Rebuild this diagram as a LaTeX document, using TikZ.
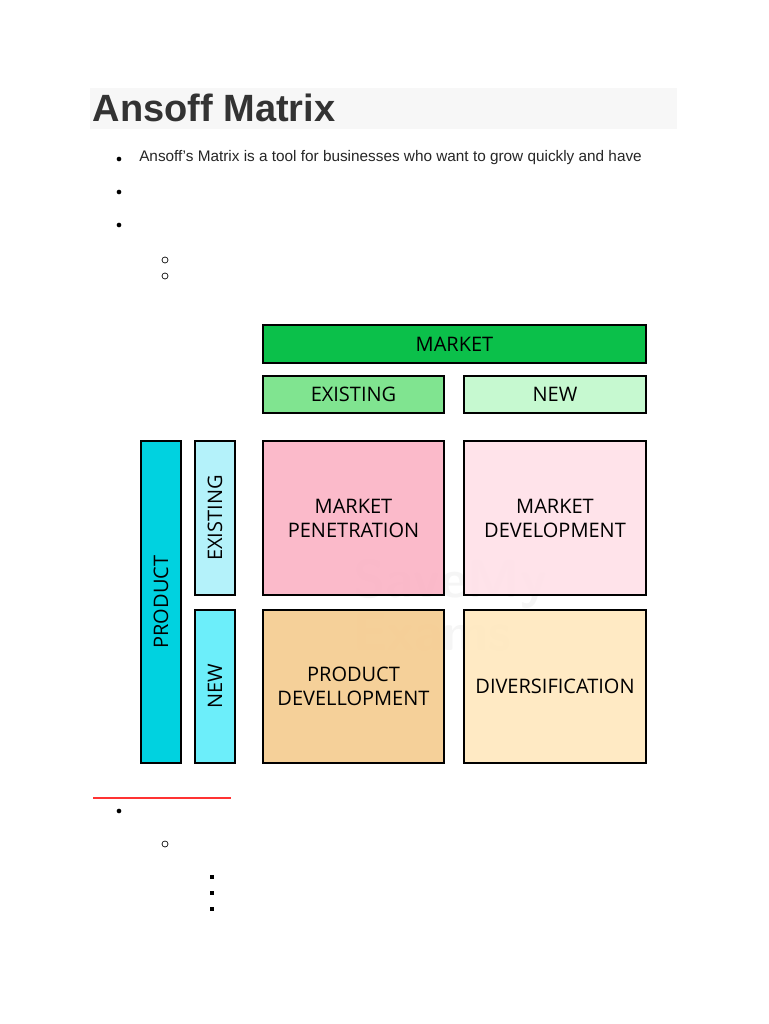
\documentclass[tikz,border=0pt]{standalone}
\usepackage{fontspec}
\setmainfont{Liberation Sans}
\newfontfamily\boxf{Open Sans}
\begin{document}
\begin{tikzpicture}[x=0.75pt,y=-0.75pt,
  bx/.style={draw=black,line width=0.8pt,inner sep=0pt,font=\boxf\fontsize{15}{18}\selectfont,align=center},
  dot/.style={circle,fill=black,inner sep=0pt,minimum size=3.5pt},
  odot/.style={circle,draw=black,line width=0.5pt,inner sep=0pt,minimum size=4.5pt},
  sq/.style={fill=black,inner sep=0pt,minimum size=3pt}]
\useasboundingbox (0,0) rectangle (768,1024);
\fill[white] (0,0) rectangle (768,1024);
\fill[black!3] (90,88) rectangle (677,129);
\node[anchor=west,font=\bfseries\fontsize{28.5}{30}\selectfont,text=black!80] (title) at (88,108) {Ansoff Matrix};
\node[dot] (b1) at (119,159) {};
\node[dot] (b2) at (119,192) {};
\node[dot] (b3) at (119,225) {};
\node[anchor=west,font=\fontsize{11.5}{13}\selectfont,text=black!85,inner sep=0pt] (t1) at (139,158) {Ansoff’s Matrix is a tool for businesses who want to grow quickly and have};
\node[odot] (c1) at (165,260) {};
\node[odot] (c2) at (165,276) {};
\node[font=\sffamily\bfseries\fontsize{40}{40}\selectfont,text=black!4,align=left] (wm) at (450,605) {SaveMy\\Exams};
\node[bx,fill={rgb,255:red,11;green,192;blue,74},minimum width=383*0.75pt,minimum height=38*0.75pt] (market) at (454.5,344) {MARKET};
\node[bx,fill={rgb,255:red,128;green,228;blue,144},minimum width=181*0.75pt,minimum height=37*0.75pt] (mex) at (353.5,394.5) {EXISTING};
\node[bx,fill={rgb,255:red,198;green,249;blue,208},minimum width=182*0.75pt,minimum height=37*0.75pt] (mnew) at (555,394.5) {NEW};
\node[bx,fill={rgb,255:red,0;green,210;blue,224},minimum width=40*0.75pt,minimum height=322*0.75pt] (prod) at (161,602) {};
\node[font=\boxf\fontsize{15}{18}\selectfont,rotate=90] at (prod) {PRODUCT};
\node[bx,fill={rgb,255:red,180;green,242;blue,250},minimum width=40*0.75pt,minimum height=154*0.75pt] (pex) at (215,518) {};
\node[font=\boxf\fontsize{15}{18}\selectfont,rotate=90] at (pex) {EXISTING};
\node[bx,fill={rgb,255:red,108;green,238;blue,250},minimum width=40*0.75pt,minimum height=153*0.75pt] (pnew) at (215,686.5) {};
\node[font=\boxf\fontsize{15}{18}\selectfont,rotate=90] at (pnew) {NEW};
\node[bx,fill={rgb,255:red,251;green,179;blue,197},fill opacity=0.9,text opacity=1,minimum width=181*0.75pt,minimum height=154*0.75pt] (mp) at (353.5,518) {MARKET\\PENETRATION};
\node[bx,fill={rgb,255:red,255;green,225;blue,232},fill opacity=0.9,text opacity=1,minimum width=182*0.75pt,minimum height=154*0.75pt] (md) at (555,518) {MARKET\\DEVELOPMENT};
\node[bx,fill={rgb,255:red,245;green,203;blue,142},fill opacity=0.9,text opacity=1,minimum width=181*0.75pt,minimum height=153*0.75pt] (pd) at (353.5,686.5) {PRODUCT\\DEVELLOPMENT};
\node[bx,fill={rgb,255:red,255;green,232;blue,190},fill opacity=0.9,text opacity=1,minimum width=182*0.75pt,minimum height=153*0.75pt] (div) at (555,686.5) {DIVERSIFICATION};
\coordinate (r1) at (93,798); \coordinate (r2) at (231,798);
\draw[red!80,line width=0.8pt] (r1) -- (r2);
\node[dot] (b4) at (119,811) {};
\node[odot] (c3) at (165,844) {};
\node[sq] (s1) at (212,877) {};
\node[sq] (s2) at (212,893) {};
\node[sq] (s3) at (212,909) {};
\end{tikzpicture}
\end{document}
